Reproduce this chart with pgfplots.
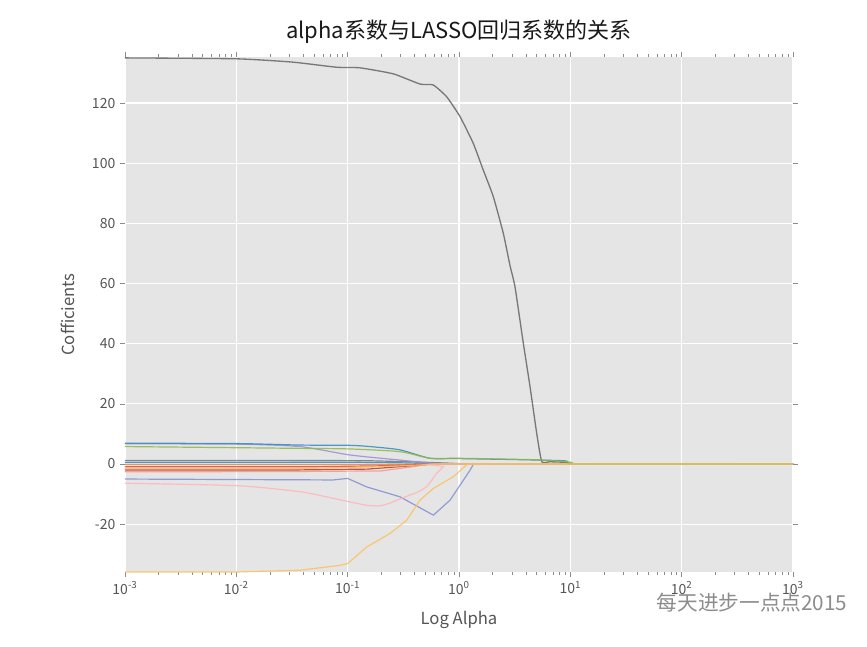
\documentclass[border=0pt]{standalone}
\usepackage{fontspec}
\setmainfont{Noto Sans CJK SC}
\usepackage{pgfplots}
\pgfplotsset{compat=1.18}
\definecolor{bg}{HTML}{E5E5E5}
\definecolor{cR}{HTML}{E24A33}
\definecolor{cB}{HTML}{348ABD}
\definecolor{cP}{HTML}{988ED5}
\definecolor{cG}{HTML}{777777}
\definecolor{cY}{HTML}{FBC15E}
\definecolor{cN}{HTML}{8EBA42}
\definecolor{cK}{HTML}{FFB5B8}
\definecolor{txt}{HTML}{555555}
\begin{document}
\begin{tikzpicture}
\path[use as bounding box, fill=white] (0,0) rectangle (650.25pt,484.5pt);
\begin{axis}[
  at={(93.75pt,55.5pt)}, anchor=south west,
  scale only axis, width=501pt, height=386.25pt,
  xmode=log, xmin=0.001, xmax=1000, ymin=-35.9, ymax=135.3,
  xtick={0.001,0.01,0.1,1,10,100,1000},
  xticklabels={10\textsuperscript{-3},10\textsuperscript{-2},10\textsuperscript{-1},10\textsuperscript{0},10\textsuperscript{1},10\textsuperscript{2},10\textsuperscript{3}},
  minor xtick={0.002,0.003,0.004,0.005,0.006,0.007,0.008,0.009,
    0.02,0.03,0.04,0.05,0.06,0.07,0.08,0.09,
    0.2,0.3,0.4,0.5,0.6,0.7,0.8,0.9,
    2,3,4,5,6,7,8,9,20,30,40,50,60,70,80,90,
    200,300,400,500,600,700,800,900},
  ytick={-20,0,20,40,60,80,100,120},
  yticklabels={-20,0,20,40,60,80,100,120},
  axis background/.style={fill=bg},
  axis line style={draw=none},
  xmajorgrids, ymajorgrids,
  major grid style={white, line width=0.9pt},
  tick align=outside, tick pos=both,
  major tick length=3.75pt, minor tick length=2.2pt,
  every tick/.style={black!45, line width=0.5pt},
  tick label style={font=\fontsize{10.5}{12}\selectfont, text=txt},
  title={alpha系数与LASSO回归系数的关系},
  title style={font=\fontsize{16.5}{19}\selectfont, text=black!90, at={(axis description cs:0.5,1.033)}, anchor=center},
  xlabel={Log Alpha}, ylabel={Cofficients},
  xlabel style={font=\fontsize{12.5}{14}\selectfont, text=txt, at={(axis description cs:0.5,-0.093)}, anchor=center},
  ylabel style={font=\fontsize{12.5}{14}\selectfont, text=txt, at={(axis description cs:-0.0853,0.5)}, anchor=center},
  every axis plot/.append style={no markers, line width=0.9pt, opacity=0.85},
]
% largest coefficient
\addplot[cG!85!black, line width=1pt, smooth, tension=0.3] coordinates {(0.001,135.0) (0.01,134.7) (0.032,133.6) (0.0794,131.9) (0.129,131.7) (0.257,129.7) (0.447,126.3) (0.587,126.0) (0.774,122.1) (1.021,115.5) (1.343,106.6) (1.652,97.7) (2.032,88.9) (2.500,76.7) (2.871,66.0) (3.184,58.9) (3.784,40.1) (4.345,25.7) (4.989,10.2) (5.534,0.8) (6.5,0.75) (8.5,0.6) (10,0.3) (12,0) (1000,0)};
% near-zero cluster
\addplot[cG!80!cB] coordinates {(0.001,1.2) (0.03,1.2) (0.15,1.1) (0.4,0.7) (0.8,0.3) (1.17,0) (1000,0)};
\addplot[cB] coordinates {(0.001,0.6) (0.1,0.6) (0.3,0.4) (0.6,0.1) (0.8,0) (1000,0)};
\addplot[cR!60!cY] coordinates {(0.001,-0.1) (0.3,-0.1) (0.5,0) (1000,0)};
\addplot[cR] coordinates {(0.001,-0.9) (0.05,-0.9) (0.2,-0.6) (0.45,-0.2) (0.6,0) (1000,0)};
\addplot[cR!80!black] coordinates {(0.001,-2.0) (0.03,-2.0) (0.15,-1.7) (0.4,-0.5) (0.6,0) (1000,0)};
\addplot[cK!70!cR] coordinates {(0.001,-2.6) (0.03,-2.5) (0.2,-2.3) (0.4,-0.8) (0.55,0) (1000,0)};
% larger coefficients
\addplot[cP, smooth, tension=0.4] coordinates {(0.001,6.7) (0.01,6.6) (0.0372,5.8) (0.105,3.0) (0.295,1.3) (0.589,0.2) (0.8,0) (1000,0)};
\addplot[cB, smooth, tension=0.4] coordinates {(0.001,6.9) (0.01,6.8) (0.0372,6.3) (0.105,6.2) (0.158,5.8) (0.295,4.7) (0.55,1.9) (1,1.8) (8.5,1.1) (12.3,0) (1000,0)};
\addplot[cP!80!cB] coordinates {(0.001,-5.0) (0.0741,-5.3) (0.1,-4.8) (0.148,-7.6) (0.295,-10.9) (0.55,-16.4) (0.589,-17) (0.832,-12) (1.26,-2) (1.35,0) (1000,0)};
\addplot[cK, smooth, tension=0.4] coordinates {(0.001,-6.4) (0.01,-7.2) (0.0372,-9.2) (0.0741,-11.4) (0.148,-13.7) (0.209,-13.7) (0.363,-10.3) (0.417,-9.5) (0.513,-7.5) (0.631,-3.1) (0.724,-0.9) (0.776,0) (1000,0)};
\addplot[cY] coordinates {(0.001,-1.4) (0.05,-1.4) (0.2,-0.9) (0.45,-0.3) (0.6,0) (1000,0)};
\addplot[cN, smooth, tension=0.4] coordinates {(0.001,5.8) (0.0372,5.2) (0.105,5.0) (0.295,4.1) (0.55,1.9) (1,1.9) (5,1.4) (10,0.6) (12.3,0) (1000,0)};
\addplot[cY] coordinates {(0.001,-35.9) (0.01,-35.9) (0.0372,-35.3) (0.0851,-33.7) (0.1,-33.1) (0.148,-27.6) (0.240,-23.1) (0.339,-18.7) (0.447,-12) (0.589,-8.1) (0.891,-4.2) (1.17,-0.3) (1.26,0) (1000,0)};
\end{axis}
\node[anchor=west, text=black!45, font=\fontsize{15.5}{18}\selectfont] at (489pt,32.25pt) {每天进步一点点2015};
\end{tikzpicture}
\end{document}
